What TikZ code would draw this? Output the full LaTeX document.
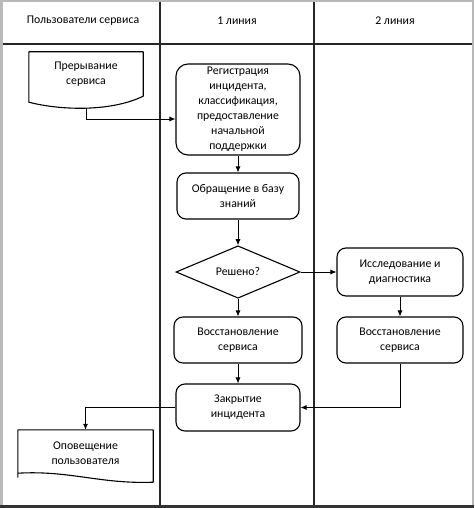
\documentclass[tikz,border=0pt]{standalone}
\usepackage{fontspec}
\setmainfont{Carlito}
\usetikzlibrary{positioning,arrows.meta,shapes.geometric,calc}

\begin{document}
\begin{tikzpicture}[x=1pt,y=-1pt]
	\tikzset{
		txt/.style={font=\fontsize{11.8}{15}\selectfont, align=center, inner sep=1pt},
		proc/.style={txt, draw, rounded corners=9pt, line width=1.1pt},
		decide/.style={txt, draw, diamond, line width=1.1pt, inner sep=0pt},
		doc/.style={txt, minimum width=#1},
		docline/.style={line width=1.1pt, line join=round},
		arr/.style={-{Latex[length=6pt,width=5pt]}, line width=0.8pt},
		lane/.style={line width=1.3pt, black!85}
	}
	% frame and lanes
	\fill[gray!55] (0,0) rectangle (474,508);
	\fill[white] (3,2) rectangle (471.5,505);
	\fill[black!80] (0,505) rectangle (474,508);
	\useasboundingbox (0,0) rectangle (474,508);
	\draw[lane] (3,44) -- (471.5,44);
	\draw[lane] (160,2) -- (160,505);
	\draw[lane] (314,2) -- (314,505);
	\node[txt] (hUsers) at (83,21) {Пользователи сервиса};
	\node[txt] (hLine1) at (237,21) {1 линия};
	\node[txt] (hLine2) at (395,21) {2 линия};
	% documents
	\node[doc=114pt, minimum height=44pt] (stop) at (86,74) {Прерывание\\сервиса};
	\draw[docline] (stop.south west) -- (stop.north west) -- (stop.north east) -- (stop.south east)
		.. controls ($(stop.south east)+(-33,16)$) and ($(stop.south west)+(31,14)$) .. ($(stop.south west)+(0,6)$) -- cycle;
	\node[doc=135pt, minimum height=47pt] (notify) at (85.5,453.5) {Оповещение\\пользователя};
	\draw[docline] (notify.south west) -- (notify.north west) -- (notify.north east) -- ($(notify.south east)+(0,5)$)
		.. controls ($(notify.south east)+(-53,7)$) and ($(notify.south west)+(52,-7)$) .. ($(notify.south west)+(0,-4)$) -- cycle;
	% 1st line
	\node[proc, minimum width=124pt, minimum height=91pt, rounded corners=12pt] (reg) at (238,109.5) {Регистрация\\инцидента,\\классификация,\\предоставление\\начальной\\поддержки};
	\node[proc, minimum width=122pt, minimum height=46pt] (kb) at (238,196) {Обращение в базу\\знаний};
	\node[decide, minimum width=124pt, minimum height=46pt] (solved) at (238,272) {Решено?};
	\node[proc, minimum width=128pt, minimum height=46pt] (restore1) at (238,340) {Восстановление\\сервиса};
	\node[proc, minimum width=124pt, minimum height=47pt] (close) at (238,407.5) {Закрытие\\инцидента};
	% 2nd line
	\node[proc, minimum width=126pt, minimum height=48pt] (diag) at (400,272) {Исследование и\\диагностика};
	\node[proc, minimum width=126pt, minimum height=46pt] (restore2) at (400,340) {Восстановление\\сервиса};
	% connectors
	\draw[arr] ([yshift=-12pt]stop.south) |- ([yshift=-9.5pt]reg.west);
	\path[arr]
		(reg) edge (kb)
		(kb) edge (solved)
		(solved) edge (restore1)
		(solved) edge (diag)
		(diag) edge (restore2)
		(restore1) edge (close);
	\draw[arr] (restore2.south) |- (close.east);
	\draw[arr] (close.west) -| (notify.north);
\end{tikzpicture}
\end{document}
